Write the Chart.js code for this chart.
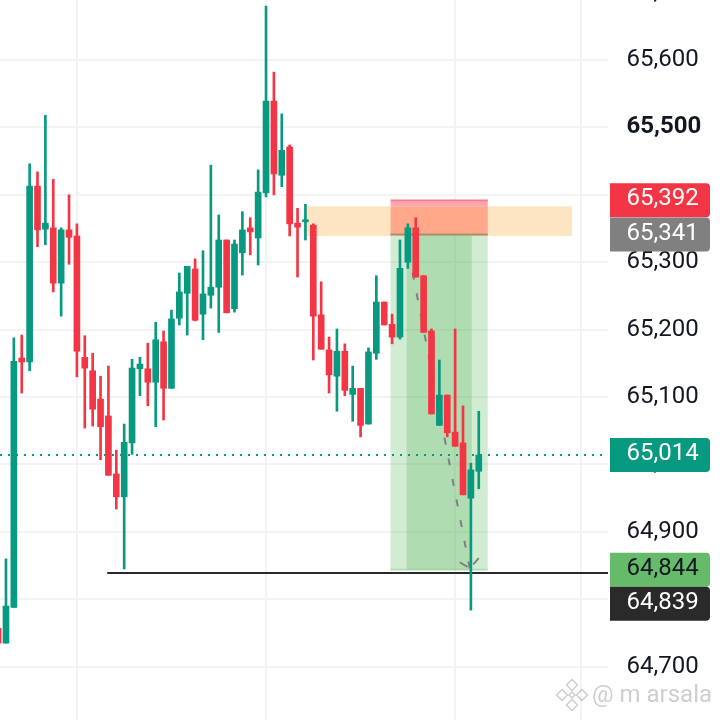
<!DOCTYPE html>
<html>
<head>
<meta charset="utf-8">
<title>Candles</title>
<style>
html, body { margin: 0; padding: 0; background: #ffffff; }
canvas { display: block; }
</style>
<script src="https://cdn.jsdelivr.net/npm/chart.js@4/dist/chart.umd.min.js"></script>
</head>
<body>
<canvas id="myChart" width="720" height="720"></canvas>
<script>
// candles
var opens  = [64757,64735,64788,65158,65152,65413,65349,65351,65269,65348,65339,65159,65139,65097,65072,64986,64952,65032,65142,65142,65122,65182,65113,65217,65254,65290,65223,65251,65263,65333,65231,65314,65351,65336,65403,65539,65429,65471,65358,65360,65355,65222,65170,65131,65168,65104,65113,65060,65165,65241,65208,65189,65300,65351,65280,65198,65058,65103,65048,65032,64950,64990];
var highs  = [64757,64860,65188,65192,65446,65434,65518,65423,65351,65400,65357,65191,65165,65131,65146,65021,65060,65156,65159,65180,65211,65198,65229,65284,65294,65305,65317,65444,65370,65333,65333,65375,65366,65437,65680,65582,65520,65474,65380,65386,65357,65271,65189,65201,65179,65146,65113,65173,65280,65241,65223,65333,65357,65366,65280,65201,65155,65103,65201,65087,65002,65079];
var lows   = [64735,64735,64788,65106,65139,65323,65326,65256,65220,65297,65130,65054,65057,65007,64984,64934,64845,65015,65102,65087,65056,65066,65113,65207,65192,65213,65185,65232,65196,65225,65226,65281,65311,65296,65397,65400,65412,65339,65278,65333,65155,65171,65106,65079,65102,65064,65041,65060,65156,65207,65179,65186,65291,65278,65196,65075,65058,65041,65027,64955,64784,64964];
var closes = [64735,64790,65153,65152,65413,65348,65358,65269,65348,65337,65168,65143,65082,65056,64984,64952,65033,65143,65149,65122,65185,65113,65216,65256,65294,65214,65253,65263,65333,65225,65327,65348,65345,65404,65539,65431,65466,65357,65352,65363,65220,65171,65133,65168,65110,65113,65058,65167,65241,65207,65189,65291,65351,65278,65196,65075,65103,65047,65027,64955,64992,65014];

var priceTicks = [64700,64800,64900,65000,65100,65200,65300,65400,65500,65600,65700];
var boldTick = 65500;
var timeGrid = [10,34,58,74];

var lastPrice = 65014;
var stopPrice = 65392;
var entryPrice = 65341;
var targetPrice = 64844;
var lowPrice = 64839;

// drawn objects
var lowLineX = [13.85,77.4];
var supplyX = [39,72.82];
var supplyY = [65383,65339];
var toolX = [49.81,62.14];
var toolInnerX = [51.85,60.11];
var pathX = [52.1,59.85];
var pathY = [65315,64846];
var arrowX = [58.58,59.85,61];
var arrowY = [64855,64846,64861];

var UP = '#089981';
var DOWN = '#f23645';
var FONT = 'Roboto, sans-serif';

var xs = opens.map(function (v, i) { return i; });
var candleColors = closes.map(function (c, i) { return c >= opens[i] ? UP : DOWN; });

function fillZone(ctx, sx, sy, x0, x1, y0, y1, color) {
    ctx.fillStyle = color;
    ctx.fillRect(sx.getPixelForValue(x0), sy.getPixelForValue(y0),
        sx.getPixelForValue(x1) - sx.getPixelForValue(x0),
        sy.getPixelForValue(y1) - sy.getPixelForValue(y0));
}

var zones = {
    id: 'zones',
    beforeDatasetsDraw: function (chart) {
        var ctx = chart.ctx, sx = chart.scales.x, sy = chart.scales.y;
        ctx.save();
        fillZone(ctx, sx, sy, supplyX[0], supplyX[1], supplyY[0], supplyY[1], '#fde5c4');
        fillZone(ctx, sx, sy, toolX[0], toolX[1], entryPrice, targetPrice, 'rgba(76,175,80,0.25)');
        fillZone(ctx, sx, sy, toolInnerX[0], toolInnerX[1], entryPrice, targetPrice, 'rgba(76,175,80,0.25)');
        fillZone(ctx, sx, sy, toolX[0], toolX[1], stopPrice, supplyY[0], '#ffa6b3');
        fillZone(ctx, sx, sy, toolX[0], toolX[1], supplyY[0], entryPrice, '#ffa98a');
        // edges of the position tool
        ctx.lineWidth = 2;
        ctx.strokeStyle = 'rgba(242,54,69,0.45)';
        ctx.beginPath();
        ctx.moveTo(sx.getPixelForValue(toolX[0]), sy.getPixelForValue(stopPrice));
        ctx.lineTo(sx.getPixelForValue(toolX[1]), sy.getPixelForValue(stopPrice));
        ctx.stroke();
        ctx.strokeStyle = '#a8926a';
        ctx.beginPath();
        ctx.moveTo(sx.getPixelForValue(toolX[0]), sy.getPixelForValue(entryPrice));
        ctx.lineTo(sx.getPixelForValue(toolX[1]), sy.getPixelForValue(entryPrice));
        ctx.stroke();
        ctx.strokeStyle = 'rgba(76,175,80,0.3)';
        ctx.beginPath();
        ctx.moveTo(sx.getPixelForValue(toolX[0]), sy.getPixelForValue(targetPrice));
        ctx.lineTo(sx.getPixelForValue(toolX[1]), sy.getPixelForValue(targetPrice));
        ctx.stroke();
        ctx.restore();
    }
};

var priceLabels = {
    id: 'priceLabels',
    afterDraw: function (chart) {
        var ctx = chart.ctx, sy = chart.scales.y;
        var boxH = 34;
        var items = [
            { v: stopPrice, bg: DOWN, fg: '#ffffff' },
            { v: entryPrice, bg: '#808080', fg: '#ffffff' },
            { v: lastPrice, bg: UP, fg: '#ffffff' },
            { v: targetPrice, bg: '#66bb6a', fg: '#131722' },
            { v: lowPrice, bg: '#2a2a2a', fg: '#ffffff' }
        ];
        var prev = -100;
        ctx.save();
        items.forEach(function (it) {
            var cy = Math.max(sy.getPixelForValue(it.v), prev + boxH);
            prev = cy;
            ctx.fillStyle = it.bg;
            ctx.beginPath();
            ctx.roundRect(610, cy - boxH / 2, 100, boxH, [0, 4, 4, 0]);
            ctx.fill();
            ctx.fillStyle = it.fg;
            ctx.font = '24px ' + FONT;
            ctx.textAlign = 'left';
            ctx.textBaseline = 'middle';
            ctx.fillText(it.v.toLocaleString('en-US'), 626.5, cy - 1);
        });
        ctx.restore();

        // watermark
        ctx.save();
        ctx.globalAlpha = 0.42;
        ctx.fillStyle = '#8a8a8a';
        ctx.strokeStyle = '#8a8a8a';
        ctx.font = '24px ' + FONT;
        ctx.textAlign = 'left';
        ctx.textBaseline = 'middle';
        ctx.fillText('@ m arsala', 592, 696);
        ctx.lineWidth = 1.5;
        [[572, 685, 5.5], [562, 695, 5.5], [582, 695, 5.5], [572, 705, 5.5], [572, 695, 3]].forEach(function (d) {
            ctx.beginPath();
            ctx.moveTo(d[0], d[1] - d[2]);
            ctx.lineTo(d[0] + d[2], d[1]);
            ctx.lineTo(d[0], d[1] + d[2]);
            ctx.lineTo(d[0] - d[2], d[1]);
            ctx.closePath();
            ctx.stroke();
        });
        ctx.restore();
    }
};

var ctx = document.getElementById('myChart').getContext('2d');
var myChart = new Chart(ctx, {
    type: 'bar',
    data: {
        datasets: [
            {
                label: 'body',
                order: 0,
                grouped: false,
                barThickness: 6,
                data: xs.map(function (x, i) { return { x: x, y: [opens[i], closes[i]] }; }),
                backgroundColor: candleColors,
                borderWidth: 0
            },
            {
                label: 'wick',
                order: 1,
                grouped: false,
                barThickness: 2,
                data: xs.map(function (x, i) { return { x: x, y: [lows[i], highs[i]] }; }),
                backgroundColor: candleColors,
                borderWidth: 0
            },
            {
                type: 'line',
                label: 'low',
                order: 2,
                data: [{ x: lowLineX[0], y: lowPrice }, { x: lowLineX[1], y: lowPrice }],
                borderColor: '#2a2a2a',
                borderWidth: 2,
                pointRadius: 0
            },
            {
                type: 'line',
                label: 'path',
                order: 3,
                data: [{ x: pathX[0], y: pathY[0] }, { x: pathX[1], y: pathY[1] }],
                borderColor: '#808080',
                borderWidth: 2,
                borderDash: [7, 14],
                pointRadius: 0
            },
            {
                type: 'line',
                label: 'arrow',
                order: 3,
                data: arrowX.map(function (x, i) { return { x: x, y: arrowY[i] }; }),
                borderColor: '#808080',
                borderWidth: 2,
                borderDash: [9, 8],
                pointRadius: 0
            },
            {
                type: 'line',
                label: 'last',
                order: 4,
                data: [{ x: 0.24, y: lastPrice }, { x: 77.4, y: lastPrice }],
                borderColor: UP,
                borderWidth: 2,
                borderDash: [2, 6],
                pointRadius: 0
            }
        ]
    },
    options: {
        responsive: false,
        animation: false,
        layout: { padding: 0 },
        plugins: { legend: { display: false }, tooltip: { enabled: false } },
        scales: {
            x: {
                type: 'linear',
                min: 0.24,
                max: 77.4,
                offset: false,
                afterBuildTicks: function (scale) {
                    scale.ticks = timeGrid.map(function (v) { return { value: v }; });
                },
                afterFit: function (scale) { scale.height = 0; },
                ticks: { display: false },
                border: { display: false },
                grid: { color: '#f2f3f3', lineWidth: 2, drawTicks: false, offset: false }
            },
            y: {
                type: 'linear',
                position: 'right',
                min: 64621,
                max: 65689,
                afterBuildTicks: function (scale) {
                    scale.ticks = priceTicks.map(function (v) { return { value: v }; });
                },
                afterFit: function (scale) {
                    scale.width = 112;
                    scale.paddingTop = 0;
                    scale.paddingBottom = 0;
                },
                border: { display: false },
                grid: { color: '#f2f3f3', lineWidth: 2, drawTicks: false },
                ticks: {
                    autoSkip: false,
                    padding: 18.5,
                    color: '#131722',
                    font: function (c) {
                        return {
                            family: FONT,
                            size: 24,
                            weight: c.tick && c.tick.value === boldTick ? 'bold' : 'normal'
                        };
                    },
                    callback: function (v) { return v.toLocaleString('en-US'); }
                }
            }
        }
    },
    plugins: [zones, priceLabels]
});
</script>
</body>
</html>
